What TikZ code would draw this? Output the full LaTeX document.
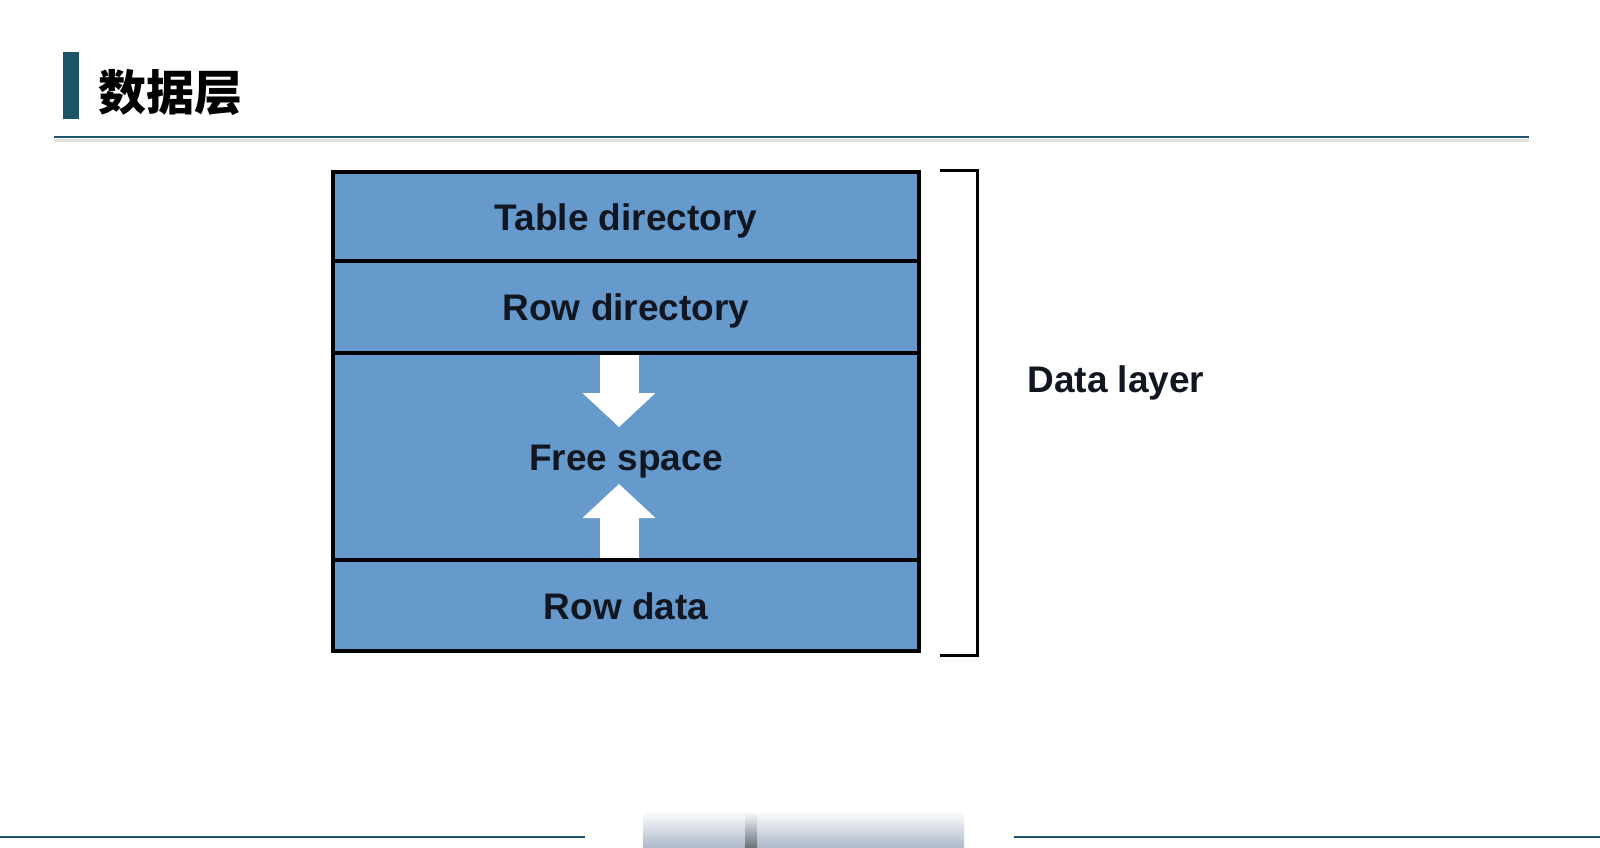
\documentclass[tikz,border=0pt]{standalone}
\usepackage{fontspec}
\setmainfont{Liberation Sans}
\newfontfamily\cjk{Noto Sans CJK SC}
\usepackage{xcolor}
\usetikzlibrary{arrows.meta,positioning,calc}

\definecolor{layerblue}{RGB}{102,153,204}
\definecolor{titleteal}{RGB}{27,84,104}
\definecolor{labeldark}{RGB}{18,22,32}
\definecolor{footgray}{RGB}{172,184,202}

\begin{document}
\begin{tikzpicture}[
  x=1pt, y=-1pt,
  font=\fontsize{37}{44}\selectfont\bfseries,
  node distance=0pt,
  layer/.style={
    rectangle, draw=black, line width=3.5pt, fill=layerblue,
    text=labeldark, minimum width=586pt, outer sep=0pt, inner sep=0pt,
    text height=27pt, text depth=0pt},
  fatarrow/.style={draw=white, line width=39pt,
    -{Triangle[length=34pt,width=73pt,line width=0pt]}},
  bracket/.style={draw=black, line width=3pt},
  rule/.style={draw=titleteal, line width=2.5pt},
  titlebar/.style={rectangle, fill=titleteal, minimum width=16pt,
    minimum height=67pt, inner sep=0pt, outer sep=0pt},
]
\useasboundingbox (0,0) rectangle (1600,848);
\fill[white] (0,0) rectangle (1600,848);

% ---- Title ----
\node[titlebar] (bar) at (71,85.5) {};
\node[anchor=west, font=\cjk\fontsize{48}{56}\selectfont\bfseries] (title) at (95,93) {数据层};
\draw[gray!25, line width=3pt] (54,140.5) -- (1529,140.5);
\draw[rule] (54,137) -- (1529,137);

% ---- Layer stack ----
\node[layer, minimum height=89pt] (tabdir) at (626,216.5) {Table directory};
\node[layer, minimum height=92pt, below=of tabdir] (rowdir) {Row directory};
\node[layer, minimum height=207pt, below=of rowdir] (free) {Free space};
\node[layer, minimum height=91pt, below=of free] (rowdata) {Row data};

% ---- Growth arrows ----
\coordinate (downtip) at (619,427);
\coordinate (uptip) at (619,484);
\draw[fatarrow] ([xshift=-7pt,yshift=-2pt]rowdir.south) -- (downtip);
\draw[fatarrow] ([xshift=-7pt,yshift=2pt]rowdata.north) -- (uptip);

% ---- Bracket + label ----
\draw[bracket] ([xshift=21pt,yshift=2pt]tabdir.north east)
  -| ([xshift=58pt,yshift=-4pt]rowdata.south east)
  -- ([xshift=21pt,yshift=-4pt]rowdata.south east);
\node[anchor=west, text=labeldark] (dlabel) at (1024,383) {Data layer};

% ---- Footer ----
\draw[rule] (0,837) -- (585,837);
\draw[rule] (1014,837) -- (1600,837);
\shade[top color=white, bottom color=footgray] (643,811) rectangle (964,848);
\shade[top color=white, bottom color=footgray!60!black] (745,811) rectangle (757,848);

\end{tikzpicture}
\end{document}
